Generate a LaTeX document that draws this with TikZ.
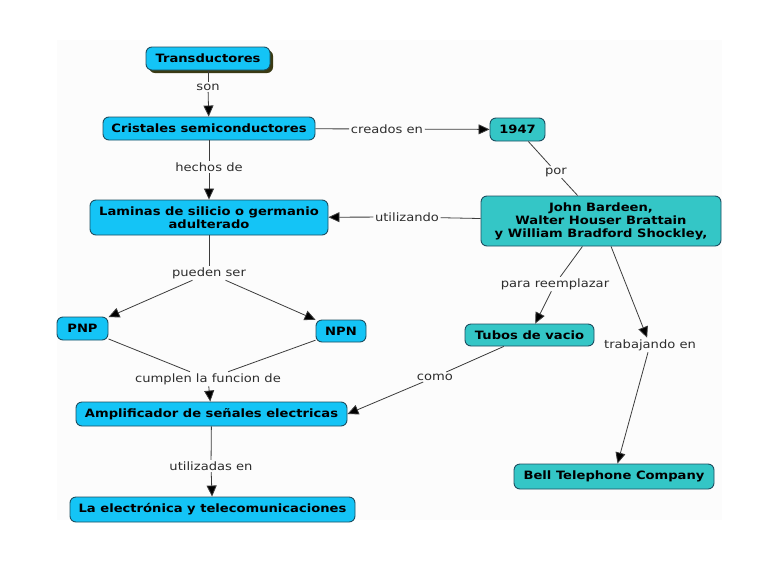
\documentclass[tikz,border=0pt]{standalone}
\usepackage{fontspec}
\setmainfont[FakeStretch=1.14]{DejaVu Sans}
\usetikzlibrary{arrows.meta,shadows}
\definecolor{cyanbox}{RGB}{20,196,246}
\definecolor{tealbox}{RGB}{52,198,198}
\definecolor{boxline}{RGB}{28,78,96}
\definecolor{linkline}{RGB}{60,60,60}
\definecolor{labeltext}{RGB}{45,45,45}
\definecolor{shadowc}{RGB}{58,58,20}
\definecolor{bgc}{RGB}{252,252,252}
\tikzset{
  concept/.style={draw=boxline, line width=0.9pt, rounded corners=6pt, align=center,
    font=\bfseries\fontsize{11.5}{13}\selectfont, text=black, inner sep=2pt},
  cbox/.style={concept, fill=cyanbox},
  tbox/.style={concept, fill=tealbox},
  lbl/.style={font=\fontsize{11.5}{13}\selectfont, text=labeltext, inner sep=1.5pt},
  link/.style={draw=linkline, line width=0.8pt},
  arr/.style={link, -{Triangle[length=11pt,width=10pt,fill=black]}},
}
\begin{document}
\begin{tikzpicture}[x=1pt,y=-1pt]
\useasboundingbox (0,0) rectangle (768,576);
\fill[bgc] (57,40) rectangle (722,520);

% concepts
\node[cbox, minimum width=124pt, minimum height=23pt,
  drop shadow={shadow xshift=3pt, shadow yshift=-3pt, fill=shadowc, opacity=1}] (t) at (208,58.5) {Transductores};
\node[cbox, minimum width=212pt, minimum height=23pt] (c) at (209,128.5) {Cristales semiconductores};
\node[cbox, minimum width=238pt, minimum height=35pt] (l) at (209,217.5) {Laminas de silicio o germanio\\adulterado};
\node[cbox, minimum width=51pt, minimum height=23pt] (pnp) at (82.5,328.5) {PNP};
\node[cbox, minimum width=50pt, minimum height=22pt] (npn) at (341,331) {NPN};
\node[cbox, minimum width=271pt, minimum height=24pt] (a) at (211.5,414) {Amplificador de señales electricas};
\node[cbox, minimum width=285pt, minimum height=25pt] (e) at (212.5,509.5) {La electrónica y telecomunicaciones};
\node[tbox, minimum width=55pt, minimum height=23pt] (y) at (517.5,129.5) {1947};
\node[tbox, minimum width=240pt, minimum height=50pt] (j) at (601,221) {John Bardeen,\\Walter Houser Brattain\\y William Bradford Shockley,};
\node[tbox, minimum width=129pt, minimum height=22pt] (tv) at (529.5,335) {Tubos de vacio};
\node[tbox, minimum width=200pt, minimum height=25pt] (b) at (614,476.5) {Bell Telephone Company};

% labels
\node[lbl] (son) at (208,87) {son};
\node[lbl] (hd) at (209,167) {hechos de};
\node[lbl] (ce) at (387,129) {creados en};
\node[lbl] (por) at (556,172) {por};
\node[lbl] (ut) at (407,217) {utilizando};
\node[lbl] (ps) at (209,273) {pueden ser};
\node[lbl] (cf) at (208,379) {cumplen la funcion de};
\node[lbl] (pr) at (555,284) {para reemplazar};
\node[lbl] (tr) at (650,345) {trabajando en};
\node[lbl] (co) at (435,377) {como};
\node[lbl] (ue) at (211,466) {utilizadas en};

% links
\draw[link] (t) -- (son);
\draw[arr] (son) -- (c);
\draw[link] (c) -- (hd);
\draw[arr] (hd) -- (l);
\draw[link] (c) -- (ce);
\draw[arr] (ce) -- (y);
\draw[link] (y) -- (por);
\draw[link] (por) -- (j);
\draw[link] (j) -- (ut);
\draw[arr] (ut) -- (l);
\draw[link] (l) -- (ps);
\draw[arr] (ps) -- (pnp);
\draw[arr] (ps) -- (npn);
\draw[link] (pnp) -- (cf);
\draw[link] (npn) -- (cf);
\draw[arr] (cf) -- (a);
\draw[link] (j) -- (pr);
\draw[arr] (pr) -- (tv);
\draw[arr] (j) -- (tr);
\draw[arr] (tr) -- (b);
\draw[link] (tv) -- (co);
\draw[arr] (co) -- (a.east);
\draw[link] (a) -- (ue);
\draw[arr] (ue) -- (e);
\end{tikzpicture}
\end{document}
